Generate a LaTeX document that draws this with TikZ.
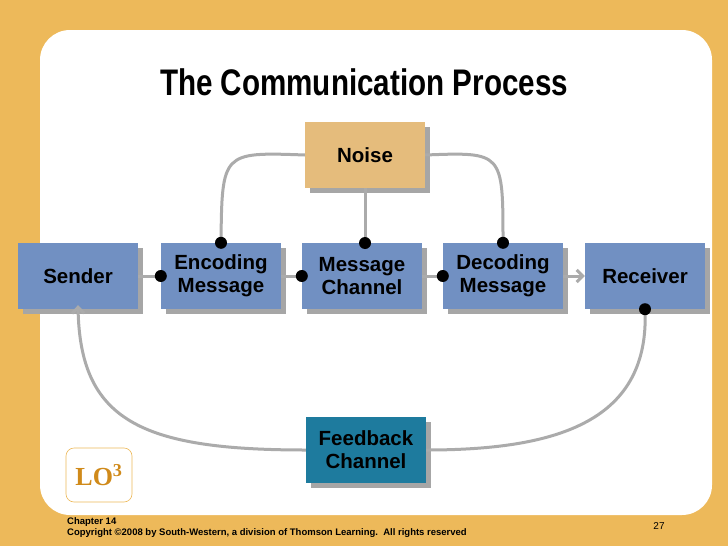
\documentclass[tikz,border=0pt]{standalone}
\usepackage{fontspec}
\setmainfont{Liberation Sans}
\newfontfamily\titlefont[FakeStretch=0.8]{Liberation Sans}
\newfontfamily\serifont{Liberation Serif}
\usetikzlibrary{arrows.meta}
\definecolor{bgor}{HTML}{EDB95A}
\definecolor{boxblue}{HTML}{7190C2}
\definecolor{noisec}{HTML}{E5BC7C}
\definecolor{fbc}{HTML}{1E7B9E}
\definecolor{conn}{HTML}{ABABAB}
\definecolor{loc}{HTML}{D08A1A}
\begin{document}
\begin{tikzpicture}[x=1pt,y=-1pt,
  box/.style={minimum width=120pt,minimum height=66pt,inner sep=0pt,font=\bfseries\fontsize{20.5}{23}\selectfont,align=center,
    fill=boxblue,text=black,
    preaction={fill=gray!70,transform canvas={shift={(5pt,-5pt)}}}},
  con/.style={draw=conn,line width=3pt},
  dot/.style={circle,fill=black,inner sep=0pt,minimum size=12pt}]
\useasboundingbox (0,0) rectangle (728,546);
\fill[bgor] (0,0) rectangle (728,546);
\fill[white,rounded corners=30pt] (40,30) rectangle (712,515);
\node[font=\titlefont\bfseries\fontsize{37}{40}\selectfont] (title) at (364,82) {The Communication Process};
\node[box] (snd) at (78,276) {Sender};
\node[box] (enc) at (221,276) {Encoding\\Message};
\node[box] (chn) at (362,276) {Message\\Channel};
\node[box] (dec) at (503,276) {Decoding\\Message};
\node[box] (rcv) at (645,276) {Receiver};
\node[box,fill=noisec] (noi) at (365,155) {Noise};
\node[box,fill=fbc] (fb) at (366,450) {Feedback\\Channel};
\coordinate (e1) at (enc.west); \coordinate (c1) at (chn.west); \coordinate (d1) at (dec.west);
\coordinate (ct) at (365,243);
\draw[con] (snd.east) -- (e1);
\draw[con] (enc.east) -- (c1);
\draw[con] (chn.east) -- (d1);
\draw[con,-{Straight Barb[length=6pt,width=12pt]}] (dec.east) -- (rcv.west);
\draw[con] (noi.west) .. controls (222,152) .. (enc.north);
\draw[con] (noi.east) .. controls (503,152) .. (dec.north);
\draw[con] (noi.south) -- (ct);
\draw[con] (rcv.south) .. controls (650,420) and (560,450) .. (fb.east);
\draw[con,-{Straight Barb[length=6pt,width=12pt]}] (fb.west) .. controls (140,450) and (80,420) .. ([yshift=4pt]snd.south);
\node[dot] (p1) at (e1) {}; \node[dot] (p2) at (c1) {}; \node[dot] (p3) at (d1) {};
\node[dot] (p4) at (enc.north) {}; \node[dot] (p5) at (ct) {}; \node[dot] (p6) at (dec.north) {};
\node[dot] (p7) at (rcv.south) {};
\node[draw=bgor,rounded corners=8pt,minimum width=66pt,minimum height=54pt,line width=0.6pt,
  font=\serifont\bfseries\fontsize{26}{28}\selectfont,text=loc] (lo) at (99,475) {LO\textsuperscript{3}};
\node[anchor=north west,align=left,inner sep=0pt,font=\bfseries\fontsize{9.5}{11}\selectfont] (foot) at (67,517) {Chapter 14\\Copyright \textcopyright2008 by South-Western, a division of Thomson Learning.\ \ All rights reserved};
\node[font=\fontsize{10}{11}\selectfont] (pg) at (659,526) {27};
\end{tikzpicture}
\end{document}
